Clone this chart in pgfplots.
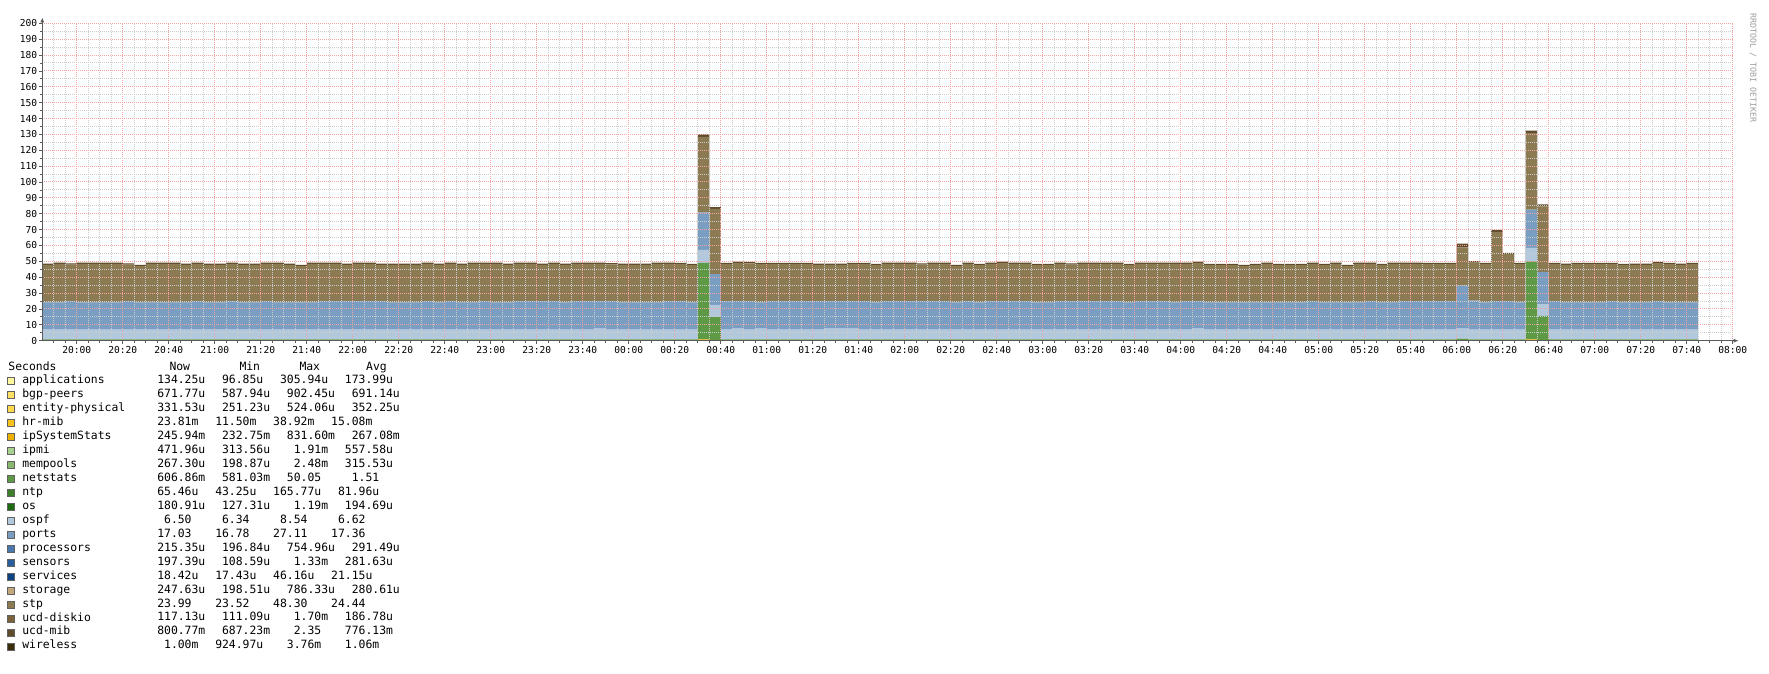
\documentclass[border=0pt]{standalone}
\usepackage{fontspec}
\setmainfont{DejaVu Sans Mono}
\usepackage{pgfplots}
\usepackage{pgfplotstable}
\pgfplotsset{compat=1.18}
\usetikzlibrary{arrows.meta}

\definecolor{capp}{HTML}{FFF6A0}
\definecolor{cbgp}{HTML}{FFE066}
\definecolor{cent}{HTML}{FFD84C}
\definecolor{chr}{HTML}{F8C21C}
\definecolor{cipss}{HTML}{F0B000}
\definecolor{cipmi}{HTML}{A8D08E}
\definecolor{cmem}{HTML}{88B86C}
\definecolor{cnet}{HTML}{5E9A46}
\definecolor{cntp}{HTML}{3C7E2A}
\definecolor{cos}{HTML}{1E6A12}
\definecolor{cospf}{HTML}{B2C8DC}
\definecolor{cports}{HTML}{7A9DC2}
\definecolor{cproc}{HTML}{4878AE}
\definecolor{csens}{HTML}{285C9A}
\definecolor{cserv}{HTML}{0A4282}
\definecolor{cstor}{HTML}{C2A67C}
\definecolor{cstp}{HTML}{8C7A52}
\definecolor{cdisk}{HTML}{7A623A}
\definecolor{cucd}{HTML}{5E4C2A}
\definecolor{cwifi}{HTML}{3A2E0A}
\definecolor{gridred}{HTML}{F4A3A3}
\definecolor{gridgray}{HTML}{CCCCCC}
\definecolor{axisgray}{HTML}{5A5A5A}

\newcommand{\SP}{\phantom{0}}
\newlength{\gapw}\setlength{\gapw}{16.8bp}
\newcommand{\lrow}[5]{\makebox[135bp][l]{#1}#2\hspace{\gapw}#3\hspace{\gapw}#4\hspace{\gapw}#5}

% t = minutes after 20:00 (start of each 5 minute step), values in seconds
\pgfplotstableread{
t ipss net ospf ports stp ucd
-15 0.25 0.6 6.15 17.2 23.6 0.8
-10 0.25 0.6 6.15 17.2 24.2 0.8
-5 0.25 0.6 6.15 17.9 23.1 0.8
0 0.25 0.6 6.15 17.2 24.2 0.8
5 0.25 0.6 6.15 17.2 24.2 0.8
10 0.25 0.6 6.15 17.2 24.2 0.8
15 0.25 0.6 6.15 17.2 24.2 0.8
20 0.25 0.6 6.15 17.9 23.1 0.8
25 0.25 0.6 6.15 17.2 22.8 0.8
30 0.25 0.6 6.15 17.2 24.2 0.8
35 0.25 0.6 6.15 17.2 24.2 0.8
40 0.25 0.6 6.15 17.2 24.2 0.8
45 0.25 0.6 6.15 17.2 23.6 0.8
50 0.25 0.6 6.15 17.9 23.5 0.8
55 0.25 0.6 6.15 17.2 23.6 0.8
60 0.25 0.6 6.15 17.2 23.6 0.8
65 0.25 0.6 6.15 17.9 23.5 0.8
70 0.25 0.6 6.15 17.2 23.6 0.8
75 0.25 0.6 6.15 17.2 23.6 0.8
80 0.25 0.6 6.15 17.9 23.5 0.8
85 0.25 0.6 6.15 17.2 24.2 0.8
90 0.25 0.6 6.15 17.2 23.6 0.8
95 0.25 0.6 6.15 17.2 22.8 0.8
100 0.25 0.6 6.15 17.2 24.2 0.8
105 0.25 0.6 6.15 17.9 23.5 0.8
110 0.25 0.6 6.15 17.9 23.5 0.8
115 0.25 0.6 6.15 17.9 22.9 0.8
120 0.25 0.6 6.15 17.9 23.5 0.8
125 0.25 0.6 6.15 17.9 23.5 0.8
130 0.25 0.6 6.15 17.9 22.9 0.8
135 0.25 0.6 6.15 17.2 23.6 0.8
140 0.25 0.6 6.15 17.2 23.6 0.8
145 0.25 0.6 6.15 17.2 23.6 0.8
150 0.25 0.6 6.15 17.9 23.5 0.8
155 0.25 0.6 6.15 17.2 23.6 0.8
160 0.25 0.6 6.15 17.9 23.5 0.8
165 0.25 0.6 6.15 17.2 23.6 0.8
170 0.25 0.6 6.15 17.2 24.2 0.8
175 0.25 0.6 6.15 17.9 23.5 0.8
180 0.25 0.6 6.15 17.2 24.2 0.8
185 0.25 0.6 6.15 17.2 23.6 0.8
190 0.25 0.6 6.15 17.9 23.5 0.8
195 0.25 0.6 6.15 17.9 23.5 0.8
200 0.25 0.6 6.15 17.9 22.9 0.8
205 0.25 0.6 6.15 17.9 23.5 0.8
210 0.25 0.6 6.15 17.2 23.6 0.8
215 0.25 0.6 6.15 17.9 23.5 0.8
220 0.25 0.6 6.15 17.9 23.5 0.8
225 0.25 0.6 6.75 17.3 23.5 0.8
230 0.25 0.6 6.15 17.9 23.2 0.8
235 0.25 0.6 6.15 17.2 23.6 0.8
240 0.25 0.6 6.15 17.2 23.6 0.8
245 0.25 0.6 6.15 17.2 23.6 0.8
250 0.25 0.6 6.15 17.2 24.2 0.8
255 0.25 0.6 6.15 17.9 23.5 0.8
260 0.25 0.6 6.15 17.9 23.3 0.8
265 0.25 0.6 6.15 17.2 23.4 0.8
270 0.83 48.27 8.1 23.7 47.6 1.5
275 0.25 14.65 7.6 19.5 41.0 1.2
280 0.25 0.6 6.15 17.9 23.3 0.8
285 0.25 0.6 6.75 17.3 24.1 0.8
290 0.25 0.6 6.15 17.9 23.9 0.8
295 0.25 0.6 6.75 16.6 24.0 0.8
300 0.25 0.6 6.15 17.9 23.3 0.8
305 0.25 0.6 6.15 17.9 23.3 0.8
310 0.25 0.6 6.15 17.9 23.3 0.8
315 0.25 0.6 6.15 17.9 23.3 0.8
320 0.25 0.6 6.15 17.9 22.9 0.8
325 0.25 0.6 6.75 17.3 22.9 0.8
330 0.25 0.6 6.75 17.3 22.9 0.8
335 0.25 0.6 6.75 17.3 23.3 0.8
340 0.25 0.6 6.15 17.9 23.3 0.8
345 0.25 0.6 6.15 17.2 23.4 0.8
350 0.25 0.6 6.15 17.9 23.5 0.8
355 0.25 0.6 6.15 17.9 23.5 0.8
360 0.25 0.6 6.15 17.9 23.5 0.8
365 0.25 0.6 6.15 17.9 23.1 0.8
370 0.25 0.6 6.15 17.9 23.5 0.8
375 0.25 0.6 6.15 17.9 23.5 0.8
380 0.25 0.6 6.15 17.2 22.8 0.8
385 0.25 0.6 6.15 17.9 23.5 0.8
390 0.25 0.6 6.15 17.2 23.4 0.8
395 0.25 0.6 6.15 17.9 23.5 0.8
400 0.25 0.6 6.15 17.9 24.2 0.8
405 0.25 0.6 6.15 17.9 23.5 0.8
410 0.25 0.6 6.15 17.9 23.5 0.8
415 0.25 0.6 6.15 17.2 23.4 0.8
420 0.25 0.6 6.15 17.2 23.4 0.8
425 0.25 0.6 6.15 17.9 23.5 0.8
430 0.25 0.6 6.15 17.9 23.1 0.8
435 0.25 0.6 6.15 17.9 23.5 0.8
440 0.25 0.6 6.15 17.9 23.5 0.8
445 0.25 0.6 6.15 17.9 23.5 0.8
450 0.25 0.6 6.15 17.9 23.5 0.8
455 0.25 0.6 6.15 17.2 23.4 0.8
460 0.25 0.6 6.15 17.9 23.5 0.8
465 0.25 0.6 6.15 17.9 23.5 0.8
470 0.25 0.6 6.15 17.9 23.5 0.8
475 0.25 0.6 6.15 17.2 24.2 0.8
480 0.25 0.6 6.15 17.9 23.5 0.8
485 0.25 0.6 6.75 17.3 24.2 0.8
490 0.25 0.6 6.15 17.2 23.4 0.8
495 0.25 0.6 6.15 17.2 23.4 0.8
500 0.25 0.6 6.15 17.2 23.4 0.8
505 0.25 0.6 6.15 17.2 22.8 0.8
510 0.25 0.6 6.15 17.2 23.4 0.8
515 0.25 0.6 6.15 17.2 24.2 0.8
520 0.25 0.6 6.15 17.2 23.4 0.8
525 0.25 0.6 6.15 17.2 23.4 0.8
530 0.25 0.6 6.15 17.2 23.4 0.8
535 0.25 0.6 6.15 17.9 23.5 0.8
540 0.25 0.6 6.15 17.2 23.4 0.8
545 0.25 0.6 6.15 17.2 24.2 0.8
550 0.25 0.6 6.15 17.2 22.8 0.8
555 0.25 0.6 6.15 17.2 24.2 0.8
560 0.25 0.6 6.15 17.9 23.5 0.8
565 0.25 0.6 6.15 17.2 23.4 0.8
570 0.25 0.6 6.15 17.2 24.2 0.8
575 0.25 0.6 6.15 17.9 23.5 0.8
580 0.25 0.6 6.15 17.9 23.5 0.8
585 0.25 0.6 6.15 17.9 23.3 0.8
590 0.25 0.6 6.15 17.9 23.3 0.8
595 0.25 0.6 6.15 17.9 23.3 0.8
600 0.25 1.05 6.3 27.1 24.1 2.3
605 0.25 0.6 6.15 18.2 24.0 1.0
610 0.25 0.6 6.15 17.2 24.0 0.8
615 0.25 0.6 6.15 17.9 43.7 1.2
620 0.25 0.6 6.15 17.9 29.6 0.8
625 0.25 0.6 6.15 17.2 24.0 0.8
630 0.83 49.17 8.5 24.1 48.3 1.5
635 0.25 15.35 7.5 20.2 41.4 1.2
640 0.25 0.6 6.15 17.9 23.3 0.8
645 0.25 0.6 6.15 17.2 23.6 0.8
650 0.25 0.6 6.15 17.2 24.0 0.8
655 0.25 0.6 6.15 17.2 24.0 0.8
660 0.25 0.6 6.15 17.2 24.0 0.8
665 0.25 0.6 6.15 17.9 23.3 0.8
670 0.25 0.6 6.15 17.2 23.4 0.8
675 0.25 0.6 6.15 17.2 23.6 0.8
680 0.25 0.6 6.15 17.2 23.6 0.8
685 0.25 0.6 6.15 17.9 24.0 0.8
690 0.25 0.6 6.15 17.2 24.0 0.8
695 0.25 0.6 6.15 17.2 23.6 0.8
700 0.25 0.6 6.15 17.2 24.0 0.8
705 0.25 0.6 6.15 17.2 24.0 0.8
}\data

\begin{document}
\begin{tikzpicture}
\path[use as bounding box] (0,0) rectangle (1769bp,674bp);
\begin{axis}[
  at={(42.3bp,333.3bp)}, anchor=south west,
  width=1690.4bp, height=317.4bp, scale only axis,
  xmin=-15, xmax=720, ymin=0, ymax=200,
  axis lines=left,
  axis line style={draw=axisgray, line width=1bp, -{Latex[length=5bp,width=4bp]}, shorten >=-6bp},
  axis on top,
  xtick={0,20,...,720},
  xticklabels={20:00,20:20,20:40,21:00,21:20,21:40,22:00,22:20,22:40,23:00,23:20,23:40,
    00:00,00:20,00:40,01:00,01:20,01:40,02:00,02:20,02:40,03:00,03:20,03:40,
    04:00,04:20,04:40,05:00,05:20,05:40,06:00,06:20,06:40,07:00,07:20,07:40,08:00},
  minor xtick={-10,-5,...,720},
  ytick={10,20,...,200},
  extra y ticks={0},
  extra y tick style={grid=none},
  minor ytick={5,15,...,195},
  grid=both,
  major grid style={draw=gridred, dash pattern=on 1bp off 1bp, line width=1bp},
  minor grid style={draw=gridgray, dash pattern=on 1bp off 1bp, line width=1bp},
  tick align=outside, major tick length=3bp, minor tick length=2bp,
  tick style={draw=axisgray, line width=0.8bp},
  tick label style={font=\fontsize{9.6bp}{10bp}\selectfont, inner sep=0pt},
  /pgf/number format/assume math mode=true,
  yticklabel style={xshift=-2bp},
  xticklabel style={yshift=-2bp},
  stack plots=y,
  every axis plot/.append style={const plot, draw=none},
  legend cell align=left,
  legend image code/.code={\draw[#1, draw=black!62, line width=0.9bp] (0.45bp,-3.55bp) rectangle (7.55bp,3.55bp);},
  legend style={at={(-0.0207,-0.1049)}, anchor=north west, draw=none, fill=none,
    inner sep=0pt, outer sep=0pt, row sep=0pt,
    font=\fontsize{11.4bp}{14bp}\selectfont,
    nodes={inner sep=0pt, text height=9bp, text depth=5bp},
    /tikz/every odd column/.append style={column sep=7bp}},
]
\addlegendimage{fill=capp}
\addlegendentry{\lrow{applications}{134.25u}{96.85u}{305.94u}{173.99u}}
\addlegendimage{fill=cbgp}
\addlegendentry{\lrow{bgp-peers}{671.77u}{587.94u}{902.45u}{691.14u}}
\addlegendimage{fill=cent}
\addlegendentry{\lrow{entity-physical}{331.53u}{251.23u}{524.06u}{352.25u}}
\addlegendimage{fill=chr}
\addlegendentry{\lrow{hr-mib}{23.81m}{11.50m}{38.92m}{15.08m}}
\addplot[fill=cipss] table[x=t, y=ipss] {\data} \closedcycle;
\addlegendentry{\lrow{ipSystemStats}{245.94m}{232.75m}{831.60m}{267.08m}}
\addlegendimage{fill=cipmi}
\addlegendentry{\lrow{ipmi}{471.96u}{313.56u}{\SP1.91m}{557.58u}}
\addlegendimage{fill=cmem}
\addlegendentry{\lrow{mempools}{267.30u}{198.87u}{\SP2.48m}{315.53u}}
\addplot[fill=cnet] table[x=t, y=net] {\data} \closedcycle;
\addlegendentry{\lrow{netstats}{606.86m}{581.03m}{50.05\SP}{\SP1.51\SP}}
\addlegendimage{fill=cntp}
\addlegendentry{\lrow{ntp}{65.46u}{43.25u}{165.77u}{81.96u}}
\addlegendimage{fill=cos}
\addlegendentry{\lrow{os}{180.91u}{127.31u}{\SP1.19m}{194.69u}}
\addplot[fill=cospf] table[x=t, y=ospf] {\data} \closedcycle;
\addlegendentry{\lrow{ospf}{\SP6.50\SP}{\SP6.34\SP}{\SP8.54\SP}{\SP6.62\SP}}
\addplot[fill=cports] table[x=t, y=ports] {\data} \closedcycle;
\addlegendentry{\lrow{ports}{17.03\SP}{16.78\SP}{27.11\SP}{17.36\SP}}
\addlegendimage{fill=cproc}
\addlegendentry{\lrow{processors}{215.35u}{196.84u}{754.96u}{291.49u}}
\addlegendimage{fill=csens}
\addlegendentry{\lrow{sensors}{197.39u}{108.59u}{\SP1.33m}{281.63u}}
\addlegendimage{fill=cserv}
\addlegendentry{\lrow{services}{18.42u}{17.43u}{46.16u}{21.15u}}
\addlegendimage{fill=cstor}
\addlegendentry{\lrow{storage}{247.63u}{198.51u}{786.33u}{280.61u}}
\addplot[fill=cstp] table[x=t, y=stp] {\data} \closedcycle;
\addlegendentry{\lrow{stp}{23.99\SP}{23.52\SP}{48.30\SP}{24.44\SP}}
\addlegendimage{fill=cdisk}
\addlegendentry{\lrow{ucd-diskio}{117.13u}{111.09u}{\SP1.70m}{186.78u}}
\addplot[fill=cucd] table[x=t, y=ucd] {\data} \closedcycle;
\addlegendentry{\lrow{ucd-mib}{800.77m}{687.23m}{\SP2.35\SP}{776.13m}}
\addlegendimage{fill=cwifi}
\addlegendentry{\lrow{wireless}{\SP1.00m}{924.97u}{\SP3.76m}{\SP1.06m}}
\end{axis}
\begin{scope}[every node/.style={inner sep=0pt, anchor=base west, font=\fontsize{11.4bp}{14bp}\selectfont}]
\node at (8.3bp,303bp) {Seconds};
\node at (169.3bp,303bp) {Now};
\node at (239.3bp,303bp) {Min};
\node at (299.3bp,303bp) {Max};
\node at (366bp,303bp) {Avg};
\end{scope}
\node[rotate=-90, inner sep=0pt, text=black!38, font=\fontsize{8.3bp}{9bp}\selectfont] at (1753bp,606bp) {RRDTOOL / TOBI OETIKER};
\end{tikzpicture}
\end{document}
